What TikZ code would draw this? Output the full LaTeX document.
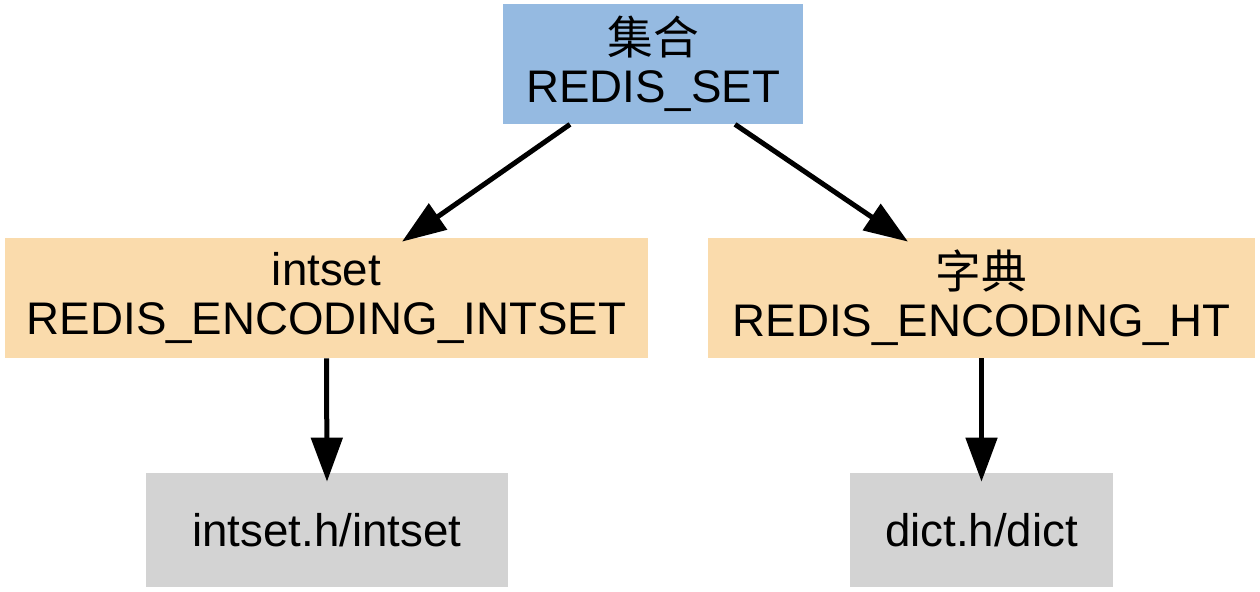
\documentclass[tikz,border=0pt]{standalone}
\usepackage{fontspec}
\setmainfont{Liberation Sans}
\newfontfamily\cjk{Noto Sans CJK SC}
\usetikzlibrary{arrows.meta}
\definecolor{setblue}{RGB}{149,186,225}
\definecolor{encpeach}{RGB}{250,219,172}
\definecolor{implgray}{RGB}{211,211,211}
\begin{document}
\begin{tikzpicture}
[inner sep=0pt, align=center,
font=\fontsize{26}{27.5}\selectfont,
obj/.style={fill=setblue, minimum width=6cm, minimum height=2.4cm},
enc/.style={fill=encpeach, minimum height=2.4cm},
impl/.style={fill=implgray, minimum height=2.28cm},
towards/.style={-{Triangle[length=0.88cm,width=0.62cm]}, line width=0.1cm}]
\useasboundingbox (0,0) rectangle (25.2,-11.84);
\node[obj] (set) at (13.06,-1.28) {{\cjk 集合}\\REDIS\_SET};
\node[enc, minimum width=12.86cm] (intset) at (6.53,-5.96) {intset\\REDIS\_ENCODING\_INTSET};
\node[enc, minimum width=10.94cm] (ht) at (19.63,-5.96) {{\cjk 字典}\\REDIS\_ENCODING\_HT};
\node[impl, minimum width=7.24cm] (intseth) at (6.54,-10.6) {intset.h/intset};
\node[impl, minimum width=5.26cm] (dicth) at (19.63,-10.6) {dict.h/dict};

\draw [towards] ([xshift=-1.66cm]set.south) -- ([xshift=1.51cm,yshift=-0.08cm]intset.north);
\draw [towards] ([xshift=1.64cm]set.south) -- ([xshift=-1.47cm,yshift=-0.08cm]ht.north);
\draw [towards] (intset.south) -- ([yshift=-0.18cm]intseth.north);
\draw [towards] (ht.south) -- ([yshift=-0.18cm]dicth.north);
\end{tikzpicture}
\end{document}
